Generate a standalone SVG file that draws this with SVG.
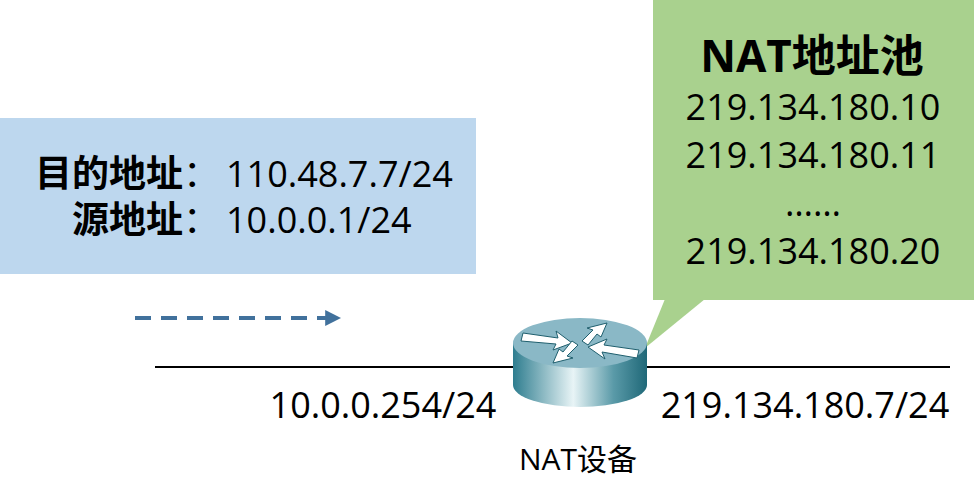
<svg xmlns="http://www.w3.org/2000/svg" width="974" height="484" viewBox="0 0 974 484">
<style>
text{font-family:"Open Sans","Noto Sans CJK SC",sans-serif;fill:#000}
.b{font-weight:bold}
.t{font-size:36px}
.c{font-size:37px}
</style>
<defs>
<linearGradient id="body" x1="0" x2="1" y1="0" y2="0">
<stop offset="0" stop-color="#2e7d8f"/><stop offset="0.45" stop-color="#e8f4f6"/><stop offset="0.75" stop-color="#5a9aa8"/><stop offset="1" stop-color="#1f6878"/>
</linearGradient>
<marker id="ah" viewBox="0 0 10 10" refX="8" refY="5" markerWidth="4" markerHeight="4" orient="auto"><path d="M0,0 L10,5 L0,10 z" fill="#41719c"/></marker>
</defs>
<g id="connectors">
<line x1="155" y1="367" x2="520" y2="367" stroke="#000" stroke-width="2"/>
<line x1="640" y1="367" x2="950" y2="367" stroke="#000" stroke-width="2"/>
<line x1="135" y1="318" x2="338" y2="318" stroke="#41719c" stroke-width="4" stroke-dasharray="16,10" marker-end="url(#ah)"/>
</g>
<g id="src-box">
<rect x="0" y="118" width="476" height="156" fill="#bdd7ee"/>
<text class="c" x="220" y="187" text-anchor="end"><tspan class="b">目的地址</tspan>：</text>
<text class="c" x="220" y="233" text-anchor="end"><tspan class="b">源地址</tspan>：</text>
<text class="t" x="226" y="187">110.48.7.7/24</text>
<text class="t" x="226" y="233">10.0.0.1/24</text>
</g>
<g id="pool">
<rect x="653" y="0" width="321" height="300" fill="#a9d18e"/>
<path d="M665,299 L705,299 L645,348 z" fill="#a9d18e"/>
<text class="b" x="812" y="72" text-anchor="middle" font-size="44">NAT地址池</text>
<text class="t" x="813" y="120" text-anchor="middle">219.134.180.10</text>
<text class="t" x="813" y="168" text-anchor="middle">219.134.180.11</text>
<text class="t" x="813" y="216" text-anchor="middle">……</text>
<text class="t" x="813" y="264" text-anchor="middle">219.134.180.20</text>
</g>
<g id="router">
<path d="M513,343 L513,385 A67,22 0 0 0 647,385 L647,343 z" fill="url(#body)"/>
<ellipse cx="580" cy="343" rx="67" ry="25" fill="#8ab8c6"/>
<g fill="#fff" stroke="#1f5f6e" stroke-width="1">
<path d="M523,333 L558,338 L556,331 L572,343 L553,350 L556,344 L521,341 z"/>
<path d="M637,358 L602,352 L605,359 L588,347 L607,339 L604,345 L639,350 z"/>
<path d="M582,341 L593,330 L587,328 L607,323 L601,337 L597,334 L588,345 z"/>
<path d="M578,345 L567,356 L573,358 L553,363 L559,349 L563,352 L572,341 z"/>
</g>
<text x="578" y="470" text-anchor="middle" font-size="30">NAT设备</text>
</g>
<g id="labels">
<text class="t" x="383" y="418" text-anchor="middle">10.0.0.254/24</text>
<text class="t" x="805" y="418" text-anchor="middle">219.134.180.7/24</text>
</g>
</svg>
